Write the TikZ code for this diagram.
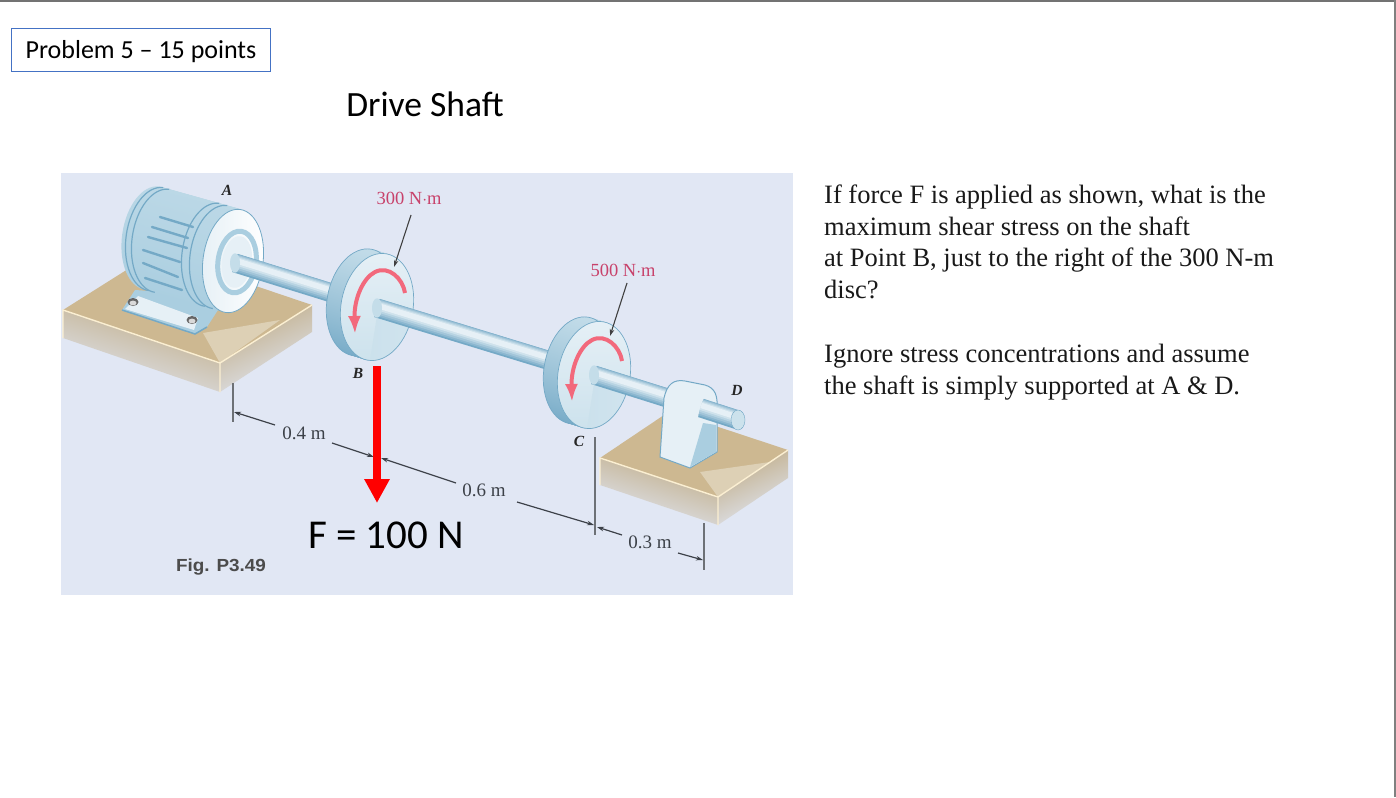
\documentclass[tikz,border=0pt]{standalone}
\usepackage{fontspec}
\setmainfont{Liberation Serif}
\newfontfamily\calibrifont{Carlito}
\newfontfamily\figfont{Liberation Sans}
\usetikzlibrary{arrows.meta}
\usetikzlibrary{calc}

\definecolor{panelblue}{HTML}{E1E7F4}
\definecolor{boxblue}{HTML}{4472C4}
\definecolor{steeldark}{HTML}{74A9C6}
\definecolor{steelmid}{HTML}{AACEE0}
\definecolor{steellight}{HTML}{E6F0F6}
\definecolor{woodtop}{HTML}{CDB891}
\definecolor{woodlight}{HTML}{DDD0B5}
\definecolor{woodedge}{HTML}{FBEFD2}
\definecolor{woodside}{HTML}{BFAA82}
\definecolor{momentred}{HTML}{F2697C}
\definecolor{momenttext}{HTML}{C8426B}
\definecolor{dimgray}{HTML}{3C4148}

\tikzset{
  bodytext/.style={inner sep=0pt,anchor=north west,align=left,text=black!90,font=\fontsize{26.5}{31.8}\selectfont},
  dimline/.style={draw=dimgray,line width=1.2pt},
  dimarrow/.style={dimline,-{Stealth[length=7pt,width=4.5pt]}},
  dimlabel/.style={inner sep=0pt,text=dimgray,font=\fontsize{19}{20}\selectfont},
  pointlabel/.style={inner sep=0pt,text=black!85,font=\fontsize{15.5}{16}\selectfont\bfseries\itshape},
  momentlabel/.style={inner sep=0pt,text=momenttext,font=\fontsize{18.5}{19}\selectfont},
  leader/.style={draw=black!75,line width=1.1pt,-{Stealth[length=7pt,width=4.5pt]}},
  fin/.style={draw=steeldark,line width=2.4pt,line cap=round},
  bandline/.style={draw=steeldark,line width=1.2pt},
  woodface/.style={bottom color=panelblue,top color=woodside},
}

% one length of round bar, darker at the rim and bright above the middle
\newcommand{\shaftbar}[2]{
  \foreach \w/\s/\m in {19/0/0,17/0.8/20,14.5/1.3/40,11.5/1.8/60,8.5/2.2/80,5.5/2.6/100}
    \draw[draw=steellight!\m!steeldark,line width=\w pt,transform canvas={yshift=\s pt}] (#1) -- (#2);
}

% disc with its moment arrow, origin at the centre of the front face
\newcommand{\drivedisc}[2]{
  \begin{scope}[shift={(#1,#2)}]
    \foreach \t in {15,14,...,1}
      \shade[top color=steelmid!70!white,bottom color=steeldark,shift={({-\t},{-0.31*\t})},rotate=-10] (0,0) ellipse (35 and 54);
    \draw[steeldark,line width=0.7pt,shift={(-15,-4.6)},rotate=-10] (0,0) ellipse (35 and 54);
    \shade[top color=steellight,bottom color=steelmid!60!white,rotate=-10] (0,0) ellipse (36 and 54);
    \begin{scope}
      \clip[rotate=-10] (0,0) ellipse (36 and 54);
      \shade[left color=steelmid!45!steellight,middle color=steelmid,right color=steelmid!35!steellight] (0,8) -- (40,20) -- (24,60) -- (-8,60) -- cycle;
    \end{scope}
    \draw[steeldark,line width=0.7pt,rotate=-10] (0,0) ellipse (36 and 54);
    \draw[momentred,line width=4pt,-{Latex[length=18pt,width=13pt]}]
      (28,-14) .. controls (26,-28) and (12,-42) .. (-2,-35) .. controls (-14,-29) and (-23,-8) .. (-22,27);
  \end{scope}
}

\begin{document}
\begin{tikzpicture}[x=1pt,y=-1pt]

  \useasboundingbox (0,0) rectangle (1396,797);
  \fill[white] (0,0) rectangle (1396,797);
  \fill[black!55] (0,0) rectangle (1396,2);
  \fill[black!50] (1394,0) rectangle (1396,797);
  \fill[panelblue] (61,173) rectangle (793,595);

  % title box and heading
  \node[draw=boxblue,line width=1pt,minimum width=259pt,minimum height=43pt,inner sep=0pt,text height=22pt,text depth=4pt,
        font=\calibrifont\fontsize{26}{27}\selectfont] (problembox) at (141,50) {Problem 5 – 15 points};
  \node[inner sep=0pt,font=\calibrifont\fontsize{35.5}{36}\selectfont] (heading) at (425,104) {Drive Shaft};

  % left block
  \fill[woodtop] (63,310) -- (155,252) -- (312,305) -- (220,363) -- cycle;
  \fill[woodlight] (203,333) -- (280,320) -- (220,363) -- cycle;
  \shade[woodface,shading angle=-18] (63,310) -- (220,363) -- (220,392) -- (63,338) -- cycle;
  \shade[woodface,shading angle=25] (220,363) -- (312,305) -- (312,332) -- (220,392) -- cycle;
  \draw[woodedge,line width=1.4pt] (63,338) -- (63,310) -- (220,363) -- (312,305) (220,363) -- (220,392);

  % motor feet
  \fill[steelmid] (122,310) -- (135,290) -- (225,296) -- (218,310) -- (207,327) -- (195,334) -- cycle;
  \fill[steellight] (125,309) -- (138,296) -- (198,318) -- (194,330) -- cycle;
  \draw[steeldark,line width=1.5pt] (122,310) -- (195,334) -- (207,327);
  \foreach \x/\y in {133/302,192/320} {
    \fill[black!60] (\x,\y) ellipse (5.5 and 4);
    \fill[white!85!black] (\x,\y+1) ellipse (3.5 and 2.4);
  }

  % motor body
  \foreach \t in {0,2,...,80}
    \shade[top color=steelmid!80!white,middle color=steellight,bottom color=steelmid,shift={({152+\t},{238+0.28*\t})},rotate=-8] (0,0) ellipse (30 and 52);
  \foreach \t in {4,10,60,68} {
    \begin{scope}[shift={({152+\t},{238+0.28*\t})},rotate=-8]
      \draw[bandline] (0,-52) arc[start angle=270,end angle=90,x radius=30,y radius=52];
    \end{scope}
  }
  \foreach \xa/\ya/\xb/\yb in {152/227/188/238,148/237/187/248,143/250/180/262,143/263/178/277,145/278/182/290}
    \draw[fin] (\xa,\ya) -- (\xb,\yb);
  \draw[fin] (160,217) -- (193,227);
  \shade[left color=steellight,right color=white,shift={(233,261)},rotate=-8] (0,0) ellipse (30 and 52);
  \draw[steeldark,line width=0.8pt,shift={(233,261)},rotate=-8] (0,0) ellipse (30 and 52);
  \draw[steelmid,line width=5pt,shift={(237,262)},rotate=-8] (0,0) ellipse (19 and 31);
  \fill[steellight,shift={(237,262)},rotate=-8] (0,0) ellipse (15 and 26);

  % shaft and first disc
  \coordinate (motorend) at (235,263);
  \coordinate (discbback) at (364,303);
  \coordinate (discb) at (377,308);
  \coordinate (disccback) at (580,370);
  \coordinate (discc) at (594,375);
  \coordinate (bearing) at (680,402);
  \coordinate (shaftend) at (738,420);
  \shaftbar{motorend}{discbback}
  \fill[steelmid!70!white,shift={(motorend)}] (0,0) ellipse (5 and 9.7);
  \drivedisc{377}{307}
  \shaftbar{discb}{disccback}
  \fill[steelmid!70!white,shift={(discb)}] (0,0) ellipse (5 and 9.7);

  % right block, under the bearing
  \fill[woodtop] (600,458) -- (670,411) -- (788,450) -- (718,497) -- cycle;
  \fill[woodlight] (700,472) -- (770,462) -- (718,497) -- cycle;
  \shade[woodface,shading angle=-18] (600,458) -- (718,497) -- (718,525) -- (600,485) -- cycle;
  \shade[woodface,shading angle=25] (718,497) -- (788,450) -- (788,478) -- (718,525) -- cycle;
  \draw[woodedge,line width=1.4pt] (600,485) -- (600,458) -- (718,497) -- (788,450) (718,497) -- (718,525);

  \drivedisc{594}{375}
  \shaftbar{discc}{bearing}
  \fill[steelmid!70!white,shift={(discc)}] (0,0) ellipse (5 and 9.7);

  % bearing
  \path[fill=steellight,draw=steeldark,line width=1pt] (660,457) -- (664,398) .. controls (667,384) and (674,379) .. (685,381)
    -- (705,385) .. controls (715,388) and (718,395) .. (717,410) -- (717,452) -- (690,468) -- cycle;
  \fill[steelmid] (690,467) -- (716,452) -- (716,425) -- (703,423) -- cycle;
  \coordinate (bearingout) at (701,408);
  \shaftbar{bearingout}{shaftend}
  \path[fill=steelmid!60!white,draw=steeldark,shift={(shaftend)}] (0,0) ellipse (7 and 10);

  % dimension lines
  \coordinate (exta) at (233,383);
  \coordinate (extb) at (233,422);
  \coordinate (extc) at (595,437);
  \coordinate (extd) at (595,535);
  \coordinate (exte) at (704,523);
  \coordinate (extf) at (704,570);
  \coordinate (doa) at (234,412);
  \coordinate (dob) at (275,425);
  \coordinate (doc) at (332,443);
  \coordinate (dod) at (374,457);
  \coordinate (doe) at (381,458);
  \coordinate (dof) at (456,483);
  \coordinate (dog) at (517,502);
  \coordinate (doh) at (594,525);
  \coordinate (doi) at (597,527);
  \coordinate (doj) at (622,535);
  \coordinate (dok) at (678,553);
  \coordinate (dol) at (703,560);
  \draw[dimline,draw=dimgray!75] (exta) -- (extb);
  \draw[dimline,draw=dimgray!75] (extc) -- (extd);
  \draw[dimline,draw=dimgray!75] (exte) -- (extf);
  \draw[dimarrow] (dob) -- (doa);
  \draw[dimarrow] (doc) -- (dod);
  \draw[dimarrow] (dof) -- (doe);
  \draw[dimarrow] (dog) -- (doh);
  \draw[dimarrow] (doj) -- (doi);
  \draw[dimarrow] (dok) -- (dol);
  \node[dimlabel] (lena) at (304,433) {0.4 m};
  \node[dimlabel] (lenb) at (484,490) {0.6 m};
  \node[dimlabel] (lenc) at (650,542) {0.3 m};

  % leaders and labels
  \node[momentlabel] (torqueb) at (409,198) {300 N$\cdot$m};
  \node[momentlabel] (torquec) at (623,270) {500 N$\cdot$m};
  \coordinate (torquebstart) at (411,215);
  \coordinate (torquecstart) at (627,283);
  \coordinate (torquebtip) at (394,267);
  \coordinate (torquectip) at (610,336);
  \draw[leader] (torquebstart) -- (torquebtip);
  \draw[leader] (torquecstart) -- (torquectip);
  \node[pointlabel] (pointa) at (227,190) {A};
  \node[pointlabel] (pointb) at (358,373) {B};
  \node[pointlabel] (pointc) at (579,441) {C};
  \node[pointlabel] (pointd) at (737,390) {D};
  \node[inner sep=0pt,text=black!70,xscale=1.08,font=\figfont\bfseries\fontsize{17.5}{18}\selectfont] (figlabel) at (221,567) {Fig. P3.49};

  % applied force
  \coordinate (forcetop) at (377,366);
  \coordinate (forcetip) at (377,503);
  \draw[red,line width=8pt,-{Triangle[length=24pt,width=24pt]}] (forcetop) -- (forcetip);
  \node[inner sep=0pt,font=\calibrifont\fontsize{41}{42}\selectfont] (forcelabel) at (386,535) {F = 100 N};

  % question text
  \node[bodytext] (question) at (824,184.5) {If force F is applied as shown, what is the\\maximum shear stress on the shaft\\at Point B, just to the right of the 300 N-m\\disc?};
  \node[bodytext] (assumption) at (824,344) {Ignore stress concentrations and assume\\the shaft is simply supported at A \& D.};

\end{tikzpicture}
\end{document}
